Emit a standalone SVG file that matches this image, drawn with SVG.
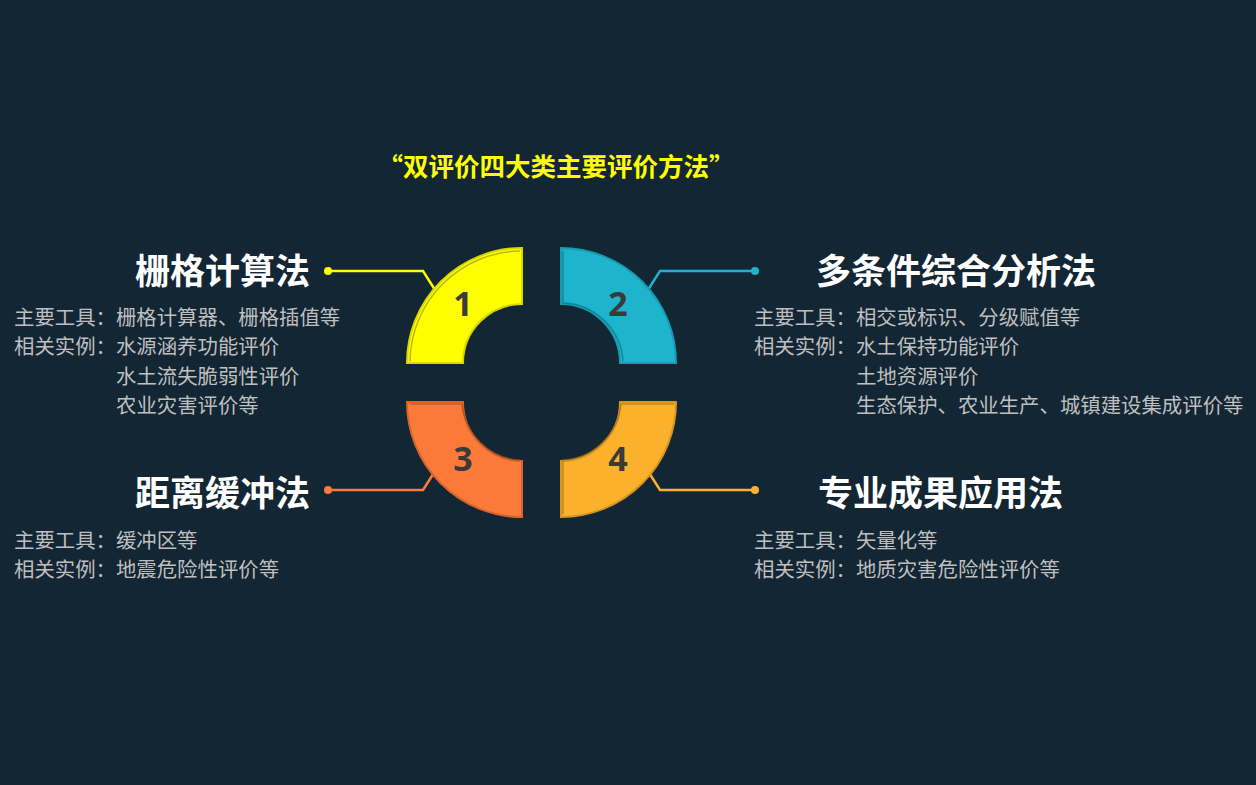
<svg xmlns="http://www.w3.org/2000/svg" width="1256" height="785" viewBox="0 0 1256 785">
<style>
.h{font-family:"Noto Sans CJK SC","Noto Sans",sans-serif;font-weight:bold;font-size:35px;fill:#ffffff}
.b{font-family:"Noto Sans CJK SC","Noto Sans",sans-serif;font-size:20.4px;fill:#bfbfbf}
.n{font-family:"Open Sans","Noto Sans",sans-serif;font-weight:bold;font-size:34px;fill:#3a3a3a;text-anchor:middle}
.seg{stroke-width:2}
.in{fill:none;stroke-width:1.5;opacity:.6}
</style>
<rect width="1256" height="785" fill="#132634"/>
<text x="556" y="176" text-anchor="middle" font-family="Noto Sans CJK SC,sans-serif" font-weight="bold" font-size="25.5" fill="#ffff00">“双评价四大类主要评价方法”</text>
<g id="connectors" fill="none" stroke-width="2.5">
<path d="M328 271H423L437 293" stroke="#ffff00"/><circle cx="328" cy="271" r="4" fill="#ffff00"/>
<path d="M755 271H660L646 293" stroke="#1eb4cd"/><circle cx="755" cy="271" r="4" fill="#1eb4cd"/>
<path d="M328 490H423L437 468" stroke="#fb7a3a"/><circle cx="328" cy="490" r="4" fill="#fb7a3a"/>
<path d="M755 490H660L646 468" stroke="#fbb12c"/><circle cx="755" cy="490" r="4" fill="#fbb12c"/>
</g>
<g id="seg1"><path class="seg" d="M407 363A115 115 0 0 1 522 248V304A59 59 0 0 0 463 363Z" fill="#ffff00" stroke="#d8d800"/>
<path class="in" d="M410 361A112 112 0 0 1 520 251" stroke="#8a8a00"/><text class="n" x="463" y="316">1</text></g>
<g id="seg2"><path class="seg" d="M676 363A115 115 0 0 0 561 248V304A59 59 0 0 1 620 363Z" fill="#1eb4cd" stroke="#169bb0"/>
<path class="in" d="M563 251V303A62 62 0 0 1 623 361" stroke="#0b6b7a"/><text class="n" x="618" y="316">2</text></g>
<g id="seg3"><path class="seg" d="M407 402A115 115 0 0 0 522 517V461A59 59 0 0 1 463 402Z" fill="#fb7a3a" stroke="#d9632b"/>
<path class="in" d="M410 404H462A62 62 0 0 0 520 460" stroke="#9a4a20"/><text class="n" x="463" y="471">3</text></g>
<g id="seg4"><path class="seg" d="M676 402A115 115 0 0 1 561 517V461A59 59 0 0 0 620 402Z" fill="#fbb12c" stroke="#d89520"/>
<path class="in" d="M674 404H621A62 62 0 0 1 563 460V514" stroke="#9a6a10"/><text class="n" x="618" y="471">4</text></g>
<g id="t1"><text class="h" x="135" y="284">栅格计算法</text>
<text class="b" x="14" y="325">主要工具：栅格计算器、栅格插值等</text>
<text class="b" x="14" y="354">相关实例：水源涵养功能评价</text>
<text class="b" x="116" y="384">水土流失脆弱性评价</text>
<text class="b" x="116" y="413">农业灾害评价等</text></g>
<g id="t2"><text class="h" x="816" y="284">多条件综合分析法</text>
<text class="b" x="754" y="325">主要工具：相交或标识、分级赋值等</text>
<text class="b" x="754" y="354">相关实例：水土保持功能评价</text>
<text class="b" x="856" y="384">土地资源评价</text>
<text class="b" x="856" y="413">生态保护、农业生产、城镇建设集成评价等</text></g>
<g id="t3"><text class="h" x="135" y="506">距离缓冲法</text>
<text class="b" x="14" y="548">主要工具：缓冲区等</text>
<text class="b" x="14" y="577">相关实例：地震危险性评价等</text></g>
<g id="t4"><text class="h" x="818" y="506">专业成果应用法</text>
<text class="b" x="754" y="548">主要工具：矢量化等</text>
<text class="b" x="754" y="577">相关实例：地质灾害危险性评价等</text></g>
</svg>
